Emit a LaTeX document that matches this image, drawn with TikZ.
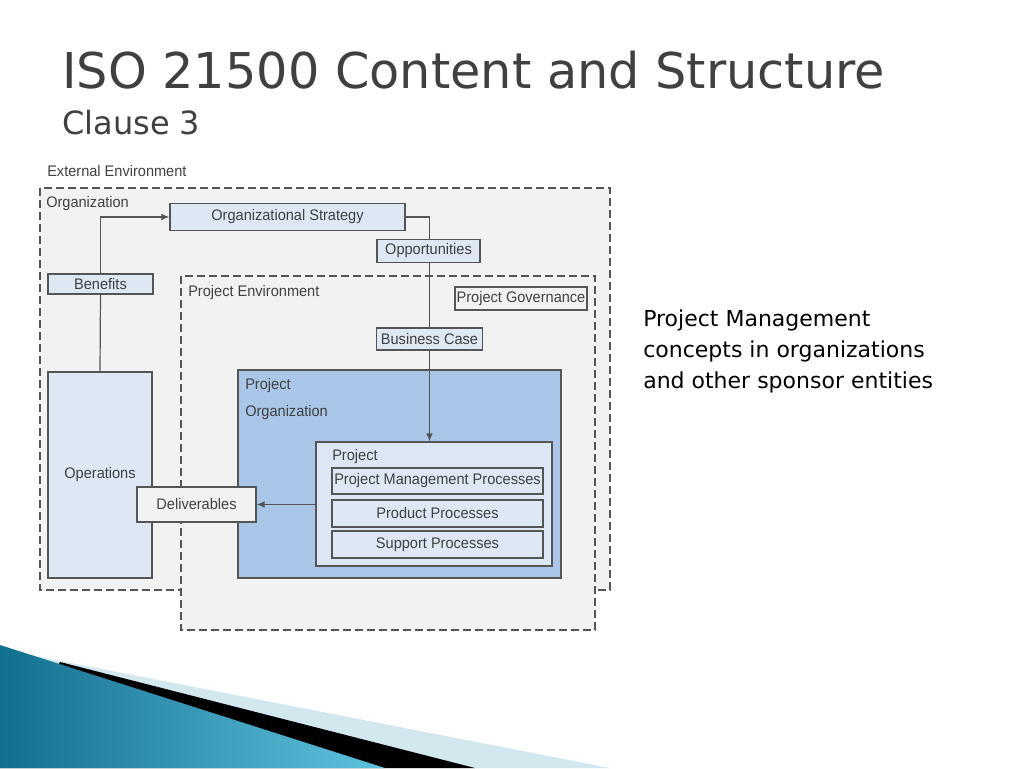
\documentclass[tikz,border=0pt]{standalone}
\usepackage{fontspec}
\setmainfont{DejaVu Sans}
\newfontfamily\dfont[FakeStretch=0.95]{Liberation Sans}
\usetikzlibrary{arrows.meta}
\definecolor{ttl}{HTML}{404040}
\definecolor{envfill}{HTML}{F2F2F2}
\definecolor{lblue}{HTML}{DDE8F4}
\definecolor{mblue}{HTML}{A9C6E8}
\definecolor{pblue}{HTML}{DCE7F3}
\definecolor{bline}{HTML}{555555}
\definecolor{tealdk}{HTML}{12708F}
\definecolor{teallt}{HTML}{5EC2DE}
\definecolor{band}{HTML}{D3E7EF}
\tikzset{
 env/.style={draw=bline, dashed, dash pattern=on 6pt off 3pt, fill=envfill, line width=0.8pt},
 bx/.style={draw=bline, fill=lblue, line width=0.9pt, font=\dfont\fontsize{11.5}{12}\selectfont, text=ttl},
 lbl/.style={anchor=west, font=\dfont\fontsize{11.5}{12}\selectfont, text=ttl, inner sep=0pt},
 ln/.style={draw=bline, line width=0.9pt},
 ar/.style={ln, -{Latex[length=6pt,width=5pt]}}
}
\begin{document}
\begin{tikzpicture}[x=0.75pt,y=-0.75pt]
\useasboundingbox (0,0) rectangle (1024,768);
% bottom decoration
\fill[band] (30,655) -- (610,768) -- (0,768) -- cycle;
\fill[black] (60,662) -- (475,768) -- (0,768) -- cycle;
\shade[left color=tealdk, right color=teallt] (0,645) -- (385,768) -- (0,768) -- cycle;
% title
\node[anchor=base west, text=ttl, font=\fontsize{37}{40}\selectfont, inner sep=0pt] (title) at (62,88) {ISO 21500 Content and Structure};
\node[anchor=base west, text=ttl, font=\fontsize{24}{28}\selectfont, inner sep=0pt] (clause) at (62,134) {Clause 3};
% environments
\node[lbl] (extl) at (47,171) {External Environment};
\draw[env] (40,188) rectangle (610,590);
\node[lbl] (orgl) at (46,204) {Organization};
\draw[env] (181,276) rectangle (595,630);
\node[lbl] (penvl) at (188,293) {Project Environment};
% boxes
\node[bx, minimum width=235*0.75pt, minimum height=27*0.75pt] (strat) at (287.5,217) {Organizational Strategy};
\node[bx, minimum width=103*0.75pt, minimum height=22*0.75pt] (opp) at (428.5,251) {Opportunities};
\node[bx, minimum width=105*0.75pt, minimum height=20*0.75pt] (ben) at (100.5,284) {Benefits};
\node[bx, fill=envfill, minimum width=132*0.75pt, minimum height=21*0.75pt, inner xsep=1pt] (gov) at (521,298.5) {Project Governance};
\node[bx, minimum width=99*0.75pt, minimum height=22*0.75pt] (bc) at (429.5,339) {Business Case};
\node[bx, minimum width=104*0.75pt, minimum height=206*0.75pt] (ops) at (100,475) {Operations};
\node[bx, fill=mblue, minimum width=323*0.75pt, minimum height=208*0.75pt] (porg) at (399.5,474) {};
\node[lbl] (porgl) at (245,386) {Project};
\node[lbl] (porgl2) at (245,413) {Organization};
\node[bx, fill=pblue, minimum width=236*0.75pt, minimum height=124*0.75pt] (proj) at (434,504) {};
\node[lbl] (projl) at (332,457) {Project};
\node[bx, minimum width=211*0.75pt, minimum height=26*0.75pt, inner xsep=1pt] (pmp) at (437.5,481) {Project Management Processes};
\node[bx, minimum width=211*0.75pt, minimum height=27*0.75pt] (pp) at (437.5,513.5) {Product Processes};
\node[bx, minimum width=211*0.75pt, minimum height=27*0.75pt] (sp) at (437.5,544.5) {Support Processes};
\node[bx, fill=envfill, minimum width=119*0.75pt, minimum height=35*0.75pt] (del) at (196.5,504.5) {Deliverables};
% connectors
\draw[ln] (ops.north) -- (ben.south);
\draw[ar] (ben.north) |- (strat.west);
\draw[ln] (strat.east) -| (opp.north -| bc.north);
\draw[ln] (opp.south -| bc.north) -- (bc.north);
\draw[ar] (bc.south) -- (bc.south |- proj.north);
\draw[ar] (proj.west |- del.east) -- (del.east);
% side text
\node[anchor=north west, align=left, text=black, font=\fontsize{16.5}{23}\selectfont, inner sep=0pt] (side) at (643,310) {Project Management\\concepts in organizations\\and other sponsor entities};
\end{tikzpicture}
\end{document}
